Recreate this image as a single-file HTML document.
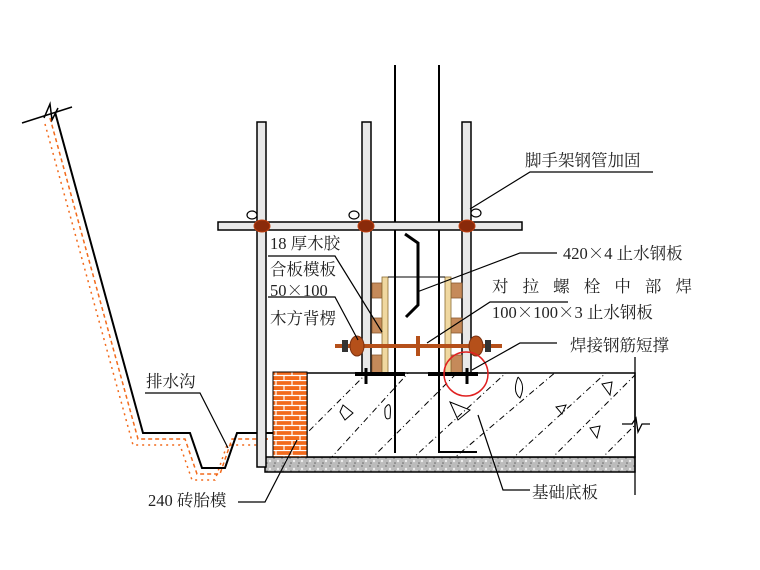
<!DOCTYPE html>
<html><head><meta charset="utf-8"><style>
html,body{margin:0;padding:0;background:#fff}
svg{display:block}
text{font-family:"Liberation Serif","Noto Serif CJK SC","Noto Sans CJK SC",serif;font-size:16.5px;fill:#222}
.x{font-family:"Noto Serif CJK SC","Noto Sans CJK SC",serif}
</style></head><body>
<svg width="760" height="570" viewBox="0 0 760 570" xmlns="http://www.w3.org/2000/svg">
<defs>
<pattern id="brick" width="16" height="10" patternUnits="userSpaceOnUse">
<rect width="16" height="10" fill="#f26a1b"/>
<path d="M0 0.5H16M0 5.5H16M4 0V5M12 5V10" stroke="#fff" stroke-width="1.2"/>
</pattern>
<pattern id="gravel" width="8" height="8" patternUnits="userSpaceOnUse">
<rect width="8" height="8" fill="#bcbcbc"/>
<circle cx="2" cy="2" r="1" fill="#888"/><circle cx="6" cy="5" r="1.2" fill="#eee"/><circle cx="3" cy="7" r="0.8" fill="#666"/>
</pattern>
<clipPath id="slab"><rect x="307" y="373" width="328" height="84"/></clipPath>
</defs>

<!-- soil hatch -->
<g stroke="#f26a1b" stroke-width="1.5" fill="none">
<path d="M55 112 L143 433 L190 433 L202 468 L225 468 L237 433 L273 433" stroke-dasharray="4 3" transform="translate(-5,6)"/>
<path d="M55 112 L143 433 L190 433 L202 468 L225 468 L237 433 L273 433" stroke-dasharray="2 4" transform="translate(-10,12)"/>
</g>
<!-- slope outline -->
<path d="M22 123 L72 107" stroke="#000" stroke-width="1.5"/>
<path d="M44 118 L50 104 L52 120 L58 108" stroke="#000" stroke-width="1.5" fill="none"/>
<path d="M55 112 L143 433 L190 433 L202 468 L225 468 L237 433 L273 433" stroke="#000" stroke-width="2" fill="none"/>

<!-- bedding -->
<rect x="265" y="457" width="370" height="15" fill="url(#gravel)" stroke="#000" stroke-width="1.5"/>
<!-- slab -->
<rect x="307" y="373" width="328" height="84" fill="#fff" stroke="#000" stroke-width="1.5"/>
<g clip-path="url(#slab)" stroke="#000" stroke-width="1" stroke-dasharray="6 3 1 3" fill="none">
<path d="M300 440 L380 360"/><path d="M320 470 L420 360"/><path d="M360 470 L470 360"/><path d="M400 470 L520 360"/>
<path d="M440 470 L570 360"/><path d="M500 470 L620 360"/><path d="M540 470 L650 360"/><path d="M590 470 L660 400"/>
</g>
<g stroke="#000" stroke-width="1" fill="none">
<path d="M343 405 L353 413 L345 420 L340 412Z"/><path d="M385 408 Q392 398 390 418 Q384 422 385 408"/>
<path d="M450 402 L470 410 L458 420Z"/><path d="M518 377 Q526 385 520 398 Q512 392 518 377"/>
<path d="M602 384 L612 382 L610 395Z"/><path d="M556 407 L566 405 L562 414Z"/><path d="M590 428 L600 426 L597 438Z"/>
</g>
<!-- break mark right -->
<path d="M635 357 V495 M622 424 L632 424 L636 418 L638 432 L642 424 L650 424" stroke="#000" stroke-width="1.3" fill="none"/>
<!-- brick -->
<rect x="273" y="372" width="34" height="85" fill="url(#brick)" stroke="#000" stroke-width="1"/>

<!-- wall lines -->
<path d="M395 65 V453 M439 65 V453 M439 452 H477" stroke="#000" stroke-width="2" fill="none"/>

<!-- scaffold pipes -->
<g fill="#e8e8e8" stroke="#000" stroke-width="1.5">
<rect x="257" y="122" width="9" height="345"/>
<rect x="362" y="122" width="9" height="252"/>
<rect x="462" y="122" width="9" height="252"/>
<rect x="218" y="222" width="304" height="8"/>
</g>
<g fill="#fff" stroke="#000" stroke-width="1.2">
<ellipse cx="252" cy="215" rx="5" ry="4"/><ellipse cx="354" cy="215" rx="5" ry="4"/><ellipse cx="476" cy="213" rx="5" ry="4"/>
</g>
<g fill="#8a2a0a" stroke="#c04010" stroke-width="1">
<ellipse cx="262" cy="226" rx="8" ry="6"/><ellipse cx="366" cy="226" rx="8" ry="6"/><ellipse cx="467" cy="226" rx="8" ry="6"/>
</g>

<!-- formwork -->
<g fill="#c58a5a" stroke="#8a5a30" stroke-width="0.8">
<rect x="372" y="283" width="10" height="15"/><rect x="372" y="318" width="10" height="15"/><rect x="372" y="355" width="10" height="18"/>
<rect x="451" y="283" width="11" height="15"/><rect x="451" y="318" width="11" height="15"/><rect x="451" y="355" width="11" height="18"/>
</g>
<rect x="382" y="277" width="6" height="96" fill="#f0d8a0" stroke="#8a6a30" stroke-width="0.8"/>
<rect x="445" y="277" width="6" height="96" fill="#f0d8a0" stroke="#8a6a30" stroke-width="0.8"/>
<path d="M388 277 H445" stroke="#000" stroke-width="1"/>
<path d="M405 234 L418 243 L418 305 L406 317" stroke="#000" stroke-width="3" fill="none"/>
<!-- plates -->
<rect x="355" y="372" width="50" height="4" fill="#000"/><rect x="428" y="372" width="50" height="4" fill="#000"/>
<path d="M366 368 V384 M467 368 V384" stroke="#000" stroke-width="3"/>
<!-- tie rod -->
<rect x="335" y="344" width="167" height="4" fill="#b5501a"/>
<rect x="416" y="336" width="4" height="20" fill="#b5501a"/>
<rect x="342" y="340" width="6" height="12" fill="#333"/><rect x="485" y="340" width="6" height="12" fill="#333"/>
<g fill="#b5501a" stroke="#7a3010" stroke-width="1">
<ellipse cx="357" cy="346" rx="7" ry="10"/><ellipse cx="476" cy="346" rx="7" ry="10"/>
</g>
<!-- red circle -->
<circle cx="466" cy="374" r="22" fill="none" stroke="#e02020" stroke-width="1.5"/>

<!-- leaders -->
<g stroke="#000" stroke-width="1.2" fill="none">
<path d="M470 209 L530 172 H653"/>
<path d="M417 292 L520 253 H557"/>
<path d="M427 343 L490 302 H568"/>
<path d="M472 370 L520 343 H557"/>
<path d="M478 415 L503 490 H530"/>
<path d="M145 393 H200 L228 448"/>
<path d="M238 502 H265 L297 440"/>
<path d="M268 256 H335 L382 332"/>
<path d="M268 297 H335 L358 340"/>
</g>

<!-- labels -->
<text x="525" y="166">脚手架钢管加固</text>
<text x="563" y="259">420<tspan class="x">×</tspan>4 止水钢板</text>
<text x="492" y="292" textLength="200">对 拉 螺 栓 中 部 焊</text>
<text x="492" y="318">100<tspan class="x">×</tspan>100<tspan class="x">×</tspan>3 止水钢板</text>
<text x="570" y="351">焊接钢筋短撑</text>
<text x="532" y="498">基础底板</text>
<text x="146" y="387">排水沟</text>
<text x="148" y="506">240 砖胎模</text>
<text x="270" y="249">18 厚木胶</text>
<text x="270" y="275">合板模板</text>
<text x="270" y="296">50<tspan class="x">×</tspan>100</text>
<text x="270" y="324">木方背楞</text>
</svg>
</body></html>
